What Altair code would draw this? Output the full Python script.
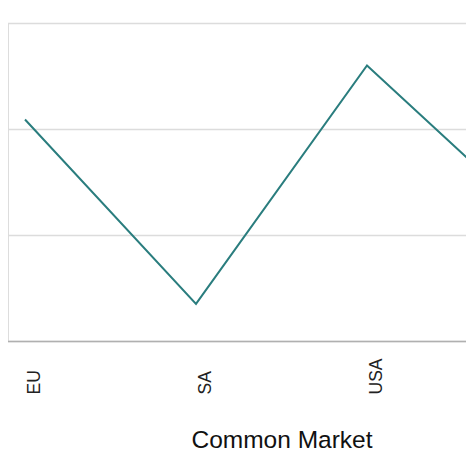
import altair as alt
import pandas as pd

markets = ["EU", "SA", "USA", "Other"]
values = [2.09, 0.35, 2.60, 1.11]
shown_labels = ["EU", "SA", "USA"]

df = pd.DataFrame({"market": markets, "value": values})

chart = alt.Chart(df).mark_line(color="#2a7d7e", strokeWidth=2, clip=True).encode(
    x=alt.X("market:N", sort=markets,
            scale=alt.Scale(type="point", padding=0.5, range=[-68.5, 615.5]),
            axis=alt.Axis(title="Common Market", values=shown_labels,
                          labelAngle=270, labelAlign="left",
                          labelBaseline="top", labelPadding=53, labelFontSize=17.5,
                          labelColor="#222222", labelFont="Liberation Sans",
                          ticks=False, grid=False, domainColor="#b0b0b0", domainWidth=1.5,
                          titleFontSize=24.5, titleFontWeight="normal", titleColor="#111111",
                          titleFont="Liberation Sans", titlePadding=34)),
    y=alt.Y("value:Q", scale=alt.Scale(domain=[0, 3], nice=False),
            axis=alt.Axis(title=None, labels=False, ticks=False, domain=False,
                          values=[0, 1, 2, 3], gridColor="#dcdcdc", gridWidth=1.5)),
).properties(
    width=458, height=318,
    autosize=alt.AutoSizeParams(type="none"),
    padding={"left": 0, "top": 15, "right": 0, "bottom": 125},
).configure_view(stroke=None).configure(background="white")

chart.save("out.html", embed_options={"renderer": "svg", "actions": False})
